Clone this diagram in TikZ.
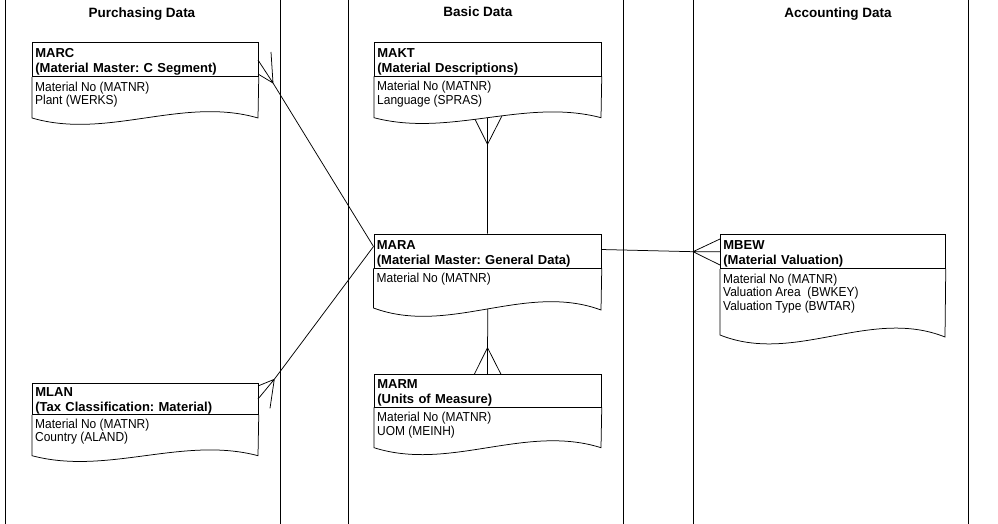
\documentclass[tikz,border=0pt]{standalone}
\usepackage{fontspec}
\setmainfont{Liberation Sans}
\newfontfamily\bodyfont{Liberation Sans}[FakeStretch=0.92]
\usetikzlibrary{calc}
\begin{document}
\frenchspacing
\begin{tikzpicture}[x=1pt,y=-1pt,
  ln/.style={line width=0.75pt, draw=black},
  hdr/.style={draw=black, line width=0.75pt, rectangle, anchor=north west,
    inner xsep=3pt, inner ysep=0pt, align=left,
    font=\fontsize{13}{15}\selectfont\bfseries\frenchspacing},
  bodytxt/.style={anchor=north west, inner sep=2pt, align=left,
    font=\bodyfont\fontsize{13}{13.6}\selectfont\frenchspacing},
  ttl/.style={font=\fontsize{13.5}{16}\selectfont\bfseries, inner sep=0pt}]
\useasboundingbox (0,0) rectangle (998,524);
\newcommand\hstrut{\rule{0pt}{13.8pt}}
% column lines
\foreach \x in {5,280.5,348,623,693,968}{\draw[ln] (\x,0) -- (\x,524);}
% titles
\node[ttl] (t-purch) at (142,14) {Purchasing Data};
\node[ttl] (t-basic) at (478,12) {Basic Data};
\node[ttl] (t-acc) at (838,14) {Accounting Data};

% MARC
\node[hdr, text width=220pt, minimum height=34.5pt] (marc) at (32,42)
  {\hstrut MARC\\(Material Master: C Segment)};
\node[bodytxt] (marc-b) at (33,79.5) {Material No (MATNR)\\Plant (WERKS)};
\draw[ln] (marc.south west) -- (32,118) .. controls (107.3,140) and (182.7,96) .. (258,118) -- (marc.south east);

% MAKT
\node[hdr, text width=221pt, minimum height=34pt] (makt) at (374,41.7)
  {\hstrut MAKT\\(Material Descriptions)};
\node[bodytxt] (makt-b) at (375,79) {Material No (MATNR)\\Language (SPRAS)};
\draw[ln] (makt.south west) -- (374,117.7) .. controls (449.7,137.7) and (525.3,97.7) .. (601,117.7)
  coordinate[pos=0.5] (makt-m) coordinate[pos=0.445] (makt-p1) coordinate[pos=0.564] (makt-p2)
  -- (makt.south east);

% MARA
\node[hdr, text width=221.5pt, minimum height=34.2pt] (mara) at (373.5,233.5)
  {\hstrut MARA\\(Material Master: General Data)};
\node[bodytxt] (mara-b) at (374.5,271) {Material No (MATNR)};
\draw[ln] (mara.south west) -- (373.5,308) .. controls (449.3,336) and (525.2,282) .. (601,310)
  coordinate[pos=0.502] (mara-m) -- (mara.south east);

% MARM
\node[hdr, text width=221pt, minimum height=32.4pt] (marm) at (374,374.3)
  {\hstrut MARM\\(Units of Measure)};
\node[bodytxt] (marm-b) at (375,410) {Material No (MATNR)\\UOM (MEINH)};
\draw[ln] (marm.south west) -- (374,447.7) .. controls (449.7,471.7) and (525.3,423.7) .. (601,447.7) -- (marm.south east);

% MBEW
\node[hdr, text width=219pt, minimum height=34pt] (mbew) at (720,234.3)
  {\hstrut MBEW\\(Material Valuation)};
\node[bodytxt] (mbew-b) at (721,271.5) {Material No (MATNR)\\Valuation Area\ \ (BWKEY)\\Valuation Type (BWTAR)};
\draw[ln] (mbew.south west) -- (720,335) .. controls (795,365) and (870,307) .. (945,337) -- (mbew.south east);

% MLAN
\node[hdr, text width=220pt, minimum height=31.3pt] (mlan) at (32,382.7)
  {\rule{0pt}{12.5pt}MLAN\\(Tax Classification: Material)};
\node[bodytxt] (mlan-b) at (33,416.5) {Material No (MATNR)\\Country (ALAND)};
\draw[ln] (mlan.south west) -- (32,455.7) .. controls (107.3,475.7) and (182.7,435.7) .. (258,455.7) -- (mlan.south east);

% ---- connectors ----
% MARC -- MARA (crow's foot at MARC)
\coordinate (mara-w) at (373.5,246.5);
\coordinate (ap-marc) at (273,83);
\coordinate (marc-e1) at (258,60);
\coordinate (marc-e2) at (258,74);
\coordinate (marc-e3) at (271,52);
\draw[ln] (mara-w) -- (ap-marc);
\draw[ln] (ap-marc) -- (marc-e1) (ap-marc) -- (marc-e2) (ap-marc) -- (marc-e3);

% MLAN -- MARA (crow's foot at MLAN)
\coordinate (ap-mlan) at (274.3,379.3);
\coordinate (mlan-e1) at (258,386);
\coordinate (mlan-e2) at (258,399);
\coordinate (mlan-e3) at (270,408.3);
\draw[ln] (mara-w) -- (ap-mlan);
\draw[ln] (ap-mlan) -- (mlan-e1) (ap-mlan) -- (mlan-e2) (ap-mlan) -- (mlan-e3);

% MAKT -- MARA (crow's foot at MAKT)
\coordinate (mara-n) at (487.5,233.5);
\coordinate (ap-makt) at (487.5,144.3);
\draw[ln] (mara-n) -- (makt-m);
\draw[ln] (ap-makt) -- (makt-p1) (ap-makt) -- (makt-p2);

% MARA -- MARM (crow's foot at MARM)
\coordinate (marm-n) at (487.5,374.3);
\coordinate (ap-marm) at (487.5,347.7);
\coordinate (marm-n1) at (474.3,374.3);
\coordinate (marm-n2) at (501,374.3);
\draw[ln] (mara-m) -- (marm-n);
\draw[ln] (ap-marm) -- (marm-n1) (ap-marm) -- (marm-n2);

% MARA -- MBEW (crow's foot at MBEW)
\coordinate (mara-e) at (601,249.5);
\coordinate (ap-mbew) at (693,251.7);
\coordinate (mbew-w1) at (720,239);
\coordinate (mbew-w2) at (720,251.7);
\coordinate (mbew-w3) at (720,265);
\draw[ln] (mara-e) -- (ap-mbew);
\draw[ln] (ap-mbew) -- (mbew-w1) (ap-mbew) -- (mbew-w2) (ap-mbew) -- (mbew-w3);
\end{tikzpicture}
\end{document}
